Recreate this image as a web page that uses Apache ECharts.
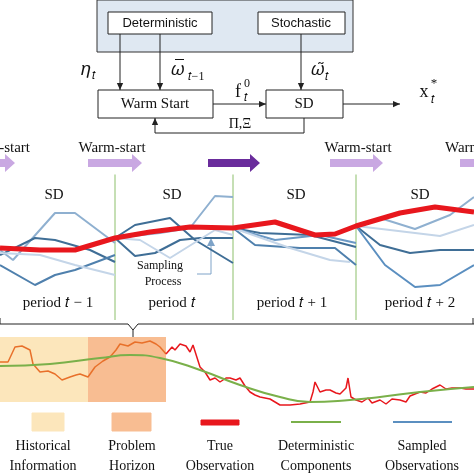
<!DOCTYPE html>
<html><head><meta charset="utf-8">
<script src="https://cdn.jsdelivr.net/npm/echarts@6/dist/echarts.min.js"></script>
<style>html,body{margin:0;background:#fff}#c{width:474px;height:474px}</style>
</head><body><div id="c"></div>
<script>
// middle panel: x = time position, y = level (higher = up)
const trueObs = [[0,52],[40,50],[75,50],[115,62],[150,68],[190,73],[233,72],[275,78],[315,65],[335,66],[356,74],[400,87],[435,93],[474,88]];
const samples = [
  { c: '#8fb0d0', d: [[0,50],[13,40],[55,87],[75,87],[115,57]] },
  { c: '#3f6e96', d: [[0,45],[35,62],[55,60],[90,50],[115,38]] },
  { c: '#4f80ad', d: [[0,35],[35,15],[55,25],[75,30],[115,45]] },
  { c: '#c4d5e8', d: [[0,47],[40,45],[75,35],[115,25]] },
  { c: '#8fb0d0', d: [[115,62],[160,67],[190,72],[215,104],[233,103]] },
  { c: '#3f6e96', d: [[115,62],[135,75],[170,82],[195,60],[233,37]] },
  { c: '#3f6e96', d: [[115,62],[135,44],[155,47],[180,60],[200,62],[233,62]] },
  { c: '#c4d5e8', d: [[115,62],[140,60],[170,42],[215,70],[233,65]] },
  { c: '#3f6e96', d: [[233,72],[260,67],[310,65],[356,53]] },
  { c: '#6a98c4', d: [[233,72],[275,60],[320,65],[356,57]] },
  { c: '#4f80ad', d: [[233,72],[255,55],[300,52],[335,52],[356,35]] },
  { c: '#c4d5e8', d: [[233,72],[290,52],[330,40],[350,38]] },
  { c: '#8fb0d0', d: [[356,74],[380,82],[415,71],[450,85],[474,103]] },
  { c: '#3f6e96', d: [[356,74],[380,55],[410,47],[440,50],[474,50]] },
  { c: '#5b8fc0', d: [[356,74],[385,35],[415,13],[440,15],[474,35]] },
  { c: '#c4d5e8', d: [[356,74],[390,70],[440,64],[474,75]] }
];
const periodLabels = ['period 𝑡 − 1', 'period 𝑡', 'period 𝑡 + 1', 'period 𝑡 + 2'];
const boundaries = [115, 233, 356];
// bottom panel
const historical = [[0,30],[8,30],[15,45],[22,46],[30,42],[33,28],[40,20],[48,21],[55,18],[62,12],[70,15],[76,17],[80,18],[88,15],[95,25],[103,31],[110,35],[116,42],[120,48],[128,46],[135,50],[142,49],[150,51],[156,48],[160,45],[166,38]];
const observed = [[166,38],[172,45],[175,42],[180,48],[186,46],[190,40],[193,47],[195,45],[200,25],[205,20],[210,12],[215,14],[220,10],[226,14],[230,14],[236,12],[240,14],[245,6],[250,0],[255,-3],[260,-5],[270,-7],[280,-13],[290,-13],[300,-12],[310,-10],[313,0],[315,10],[318,4],[320,0],[326,2],[330,2],[336,-1],[340,-2],[346,4],[348,14],[351,-5],[356,-8],[362,-10],[368,-6],[372,-11],[380,-8],[386,-12],[392,-7],[400,-8],[406,-10],[410,-4],[415,-2],[420,0],[426,-1],[432,3],[440,7],[446,3],[452,4],[460,4],[466,3],[474,3]];
const deterministic = [[0,26],[50,28],[100,34],[130,37],[160,34],[200,22],[240,7],[280,-5],[310,-10],[350,-8],[380,-5],[420,0],[474,5]];
const legendNames = [['Historical', 'Information'], ['Problem', 'Horizon'], ['True', 'Observation'], ['Deterministic', 'Components'], ['Sampled', 'Observations']];

const serif = 'Liberation Serif';
const chart = echarts.init(document.getElementById('c'));
const hidden = { show: false };
const txt = (x, y, s, size, extra) => ({ type: 'text', x, y, style: Object.assign({ text: s, font: (size || 14) + 'px "' + serif + '"', fill: '#111', align: 'center', verticalAlign: 'middle' }, extra || {}) });
const rect = (x, y, w, h, fill, stroke) => ({ type: 'rect', shape: { x, y, width: w, height: h }, style: { fill: fill || '#fff', stroke: stroke || '#222', lineWidth: 1 } });
const line = (pts, color, w) => ({ type: 'polyline', shape: { points: pts }, style: { stroke: color || '#222', lineWidth: w || 1, fill: null } });
const head = (x, y, dir) => {
  const s = 5;
  const p = dir === 'down' ? [[x - s / 1.6, y - s * 1.4], [x + s / 1.6, y - s * 1.4], [x, y]]
    : dir === 'up' ? [[x - s / 1.6, y + s * 1.4], [x + s / 1.6, y + s * 1.4], [x, y]]
    : [[x - s * 1.4, y - s / 1.6], [x - s * 1.4, y + s / 1.6], [x, y]];
  return { type: 'polygon', shape: { points: p }, style: { fill: '#222' } };
};
const fatArrow = (x, y, w, color) => ({ type: 'polygon', shape: { points: [[x, y - 4], [x + w - 10, y - 4], [x + w - 10, y - 9], [x + w, y], [x + w - 10, y + 9], [x + w - 10, y + 4], [x, y + 4]] }, style: { fill: color } });

const graphic = [
  rect(97, 0, 256, 52, '#dfe8f2', '#333'),
  rect(108, 12, 104, 22), txt(160, 23, 'Deterministic', 13, { font: '13px "Liberation Sans"' }),
  rect(258, 12, 87, 22), txt(301, 23, 'Stochastic', 13, { font: '13px "Liberation Sans"' }),
  line([[120, 34], [120, 90]]), head(120, 90, 'down'),
  line([[160, 34], [160, 90]]), head(160, 90, 'down'),
  line([[301, 34], [301, 90]]), head(301, 90, 'down'),
  txt(86, 70, '𝜂', 18), txt(94, 76, '𝑡', 12),
  txt(177, 70, '𝜔̅', 18), txt(196, 77, '𝑡−1', 12),
  txt(317, 70, '𝜔̃', 18), txt(327, 77, '𝑡', 12),
  rect(98, 90, 115, 28), txt(155, 104, 'Warm Start', 15),
  rect(266, 90, 77, 28), txt(304, 104, 'SD', 15),
  line([[213, 104], [266, 104]]), head(266, 104, 'right'),
  txt(238, 92, 'f', 18), txt(246, 98, '𝑡', 12), txt(247, 84, '0', 12),
  line([[343, 104], [400, 104]]), head(400, 104, 'right'),
  txt(424, 92, 'x', 18), txt(433, 100, '𝑡', 12), txt(434, 84, '*', 13),
  line([[304, 118], [304, 133], [155, 133], [155, 118]]), head(155, 118, 'up'),
  txt(240, 124, 'Π,Ξ', 14),
  txt(30, 148, 'Warm-start', 15, { align: 'right' }),
  txt(112, 148, 'Warm-start', 15), txt(358, 148, 'Warm-start', 15),
  txt(445, 148, 'Warm-start', 15, { align: 'left' }),
  fatArrow(-10, 163, 25, '#c9a8e2'), fatArrow(88, 163, 54, '#c9a8e2'),
  fatArrow(208, 163, 52, '#6a2c9c'), fatArrow(330, 163, 53, '#c9a8e2'), fatArrow(460, 163, 30, '#c9a8e2'),
  txt(54, 195, 'SD', 15), txt(172, 195, 'SD', 15), txt(296, 195, 'SD', 15), txt(420, 195, 'SD', 15),
  txt(160, 266, 'Sampling', 12), txt(163, 282, 'Process', 12),
  line([[197, 274], [211, 274], [211, 240]], '#7ea3c8'), { type: 'polygon', shape: { points: [[207, 246], [215, 246], [211, 238]] }, style: { fill: '#7ea3c8' } },
  line([[0, 324], [128, 324], [133, 330], [133, 340]]), line([[133, 330], [138, 324], [474, 324]]),
  line([[0, 324], [0, 318]]), line([[473, 324], [473, 318]]),
  rect(32, 413, 32, 18, '#fce6bb', '#fce6bb'), rect(112, 413, 39, 18, '#f8bd92', '#f8bd92'),
  rect(201, 420, 38, 5, '#e8171d', '#e8171d'),
  line([[291, 422], [341, 422]], '#7ab04a', 2), line([[393, 422], [452, 422]], '#5b8fc0', 2)
];
periodLabels.forEach((s, i) => graphic.push(txt([58, 172, 292, 420][i], 303, s, 15)));
legendNames.forEach((n, i) => {
  const x = [43, 132, 220, 316, 422][i];
  graphic.push(txt(x, 446, n[0], 14), txt(x, 466, n[1], 14));
});

const series = [];
boundaries.forEach(b => series.push({ type: 'line', xAxisIndex: 0, yAxisIndex: 0, data: [[b, -20], [b, 130]], symbol: 'none', lineStyle: { color: '#8cbf6a', width: 1 }, silent: true }));
samples.forEach(s => series.push({ type: 'line', xAxisIndex: 0, yAxisIndex: 0, data: s.d, symbol: 'none', lineStyle: { color: s.c, width: 2 } }));
series.push({ type: 'line', xAxisIndex: 0, yAxisIndex: 0, data: trueObs, symbol: 'none', z: 5, lineStyle: { color: '#e8171d', width: 5 } });
series.push({
  type: 'line', xAxisIndex: 1, yAxisIndex: 1, data: historical, symbol: 'none', lineStyle: { color: '#e8702a', width: 1.5 }, z: 3,
  markArea: { silent: true, data: [
    [{ coord: [0, -10], itemStyle: { color: '#fce6bb' } }, { coord: [88, 55] }],
    [{ coord: [88, -10], itemStyle: { color: '#f8bd92' } }, { coord: [166, 55] }]
  ] }
});
series.push({ type: 'line', xAxisIndex: 1, yAxisIndex: 1, data: observed, symbol: 'none', z: 3, lineStyle: { color: '#e8171d', width: 1.5 } });
series.push({ type: 'line', xAxisIndex: 1, yAxisIndex: 1, data: deterministic, symbol: 'none', smooth: true, z: 4, lineStyle: { color: '#7ab04a', width: 2 } });

chart.setOption({
  animation: false,
  grid: [
    { left: 0, top: 175, width: 474, height: 145 },
    { left: 0, top: 335, width: 474, height: 75 }
  ],
  xAxis: [
    { type: 'value', gridIndex: 0, min: 0, max: 474, show: false },
    { type: 'value', gridIndex: 1, min: 0, max: 474, show: false }
  ],
  yAxis: [
    { type: 'value', gridIndex: 0, min: -20, max: 125, show: false },
    { type: 'value', gridIndex: 1, min: -18, max: 57, show: false }
  ],
  graphic,
  series
});
</script></body></html>
